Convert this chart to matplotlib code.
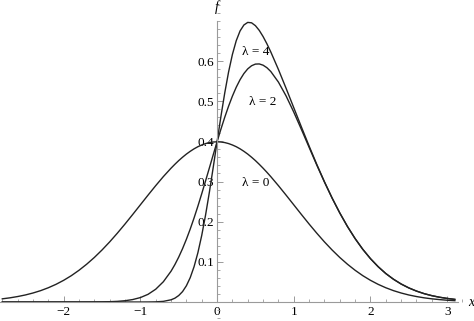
import matplotlib
matplotlib.use("Agg")
import matplotlib.pyplot as plt
from matplotlib.ticker import MultipleLocator, FixedLocator

plt.rcParams['font.family'] = ['Liberation Serif', 'DejaVu Serif']

# sample points
x = [-2.8, -2.7, -2.6, -2.5, -2.4, -2.3, -2.2, -2.1, -2.0, -1.9, -1.8, -1.7,
     -1.6, -1.5, -1.4, -1.3, -1.2, -1.1, -1.0, -0.9, -0.8, -0.7, -0.6,
     -0.55, -0.5, -0.45, -0.4, -0.35, -0.3, -0.25, -0.2, -0.15, -0.1, -0.05,
     0.0, 0.05, 0.1, 0.15, 0.2, 0.25, 0.3, 0.35, 0.4, 0.45, 0.5, 0.55, 0.6,
     0.65, 0.7, 0.8, 0.9, 1.0, 1.1, 1.2, 1.3, 1.4, 1.5, 1.6, 1.7, 1.8, 1.9,
     2.0, 2.1, 2.2, 2.3, 2.4, 2.5, 2.6, 2.7, 2.8, 2.9, 3.0, 3.1]

f_lam0 = [0.0079, 0.0104, 0.0136, 0.0175, 0.0224, 0.0283, 0.0355, 0.0440,
          0.0540, 0.0656, 0.0790, 0.0941, 0.1109, 0.1295, 0.1497, 0.1714,
          0.1942, 0.2179, 0.2420, 0.2661, 0.2897, 0.3123, 0.3332,
          0.3429, 0.3521, 0.3605, 0.3683, 0.3752, 0.3814, 0.3867, 0.3910,
          0.3945, 0.3970, 0.3984,
          0.3989, 0.3984, 0.3970, 0.3945, 0.3910, 0.3867, 0.3814, 0.3752,
          0.3683, 0.3605, 0.3521, 0.3429, 0.3332, 0.3230, 0.3123, 0.2897,
          0.2661, 0.2420, 0.2179, 0.1942, 0.1714, 0.1497, 0.1295, 0.1109,
          0.0941, 0.0790, 0.0656, 0.0540, 0.0440, 0.0355, 0.0283, 0.0224,
          0.0175, 0.0136, 0.0104, 0.0079, 0.0060, 0.0044, 0.0033]

f_lam2 = [0.0, 0.0, 0.0, 0.0, 0.0, 0.0, 0.0, 0.0, 0.0, 0.0, 0.0, 0.0001,
          0.0002, 0.0004, 0.0008, 0.0016, 0.0032, 0.0061, 0.0110, 0.0191,
          0.0318, 0.0505, 0.0767,
          0.0931, 0.1118, 0.1328, 0.1561, 0.1816, 0.2092, 0.2386, 0.2695,
          0.3015, 0.3340, 0.3667,
          0.3989, 0.4302, 0.4599, 0.4875, 0.5126, 0.5348, 0.5536, 0.5689,
          0.5805, 0.5883, 0.5924, 0.5928, 0.5897, 0.5834, 0.5741, 0.5476,
          0.5131, 0.4729, 0.4296, 0.3852, 0.3411, 0.2987, 0.2587, 0.2217,
          0.1880, 0.1579, 0.1312, 0.1080, 0.0880, 0.0709, 0.0567, 0.0448,
          0.0351, 0.0272, 0.0208, 0.0158, 0.0119, 0.0089, 0.0065]

f_lam4 = [0.0, 0.0, 0.0, 0.0, 0.0, 0.0, 0.0, 0.0, 0.0, 0.0, 0.0, 0.0,
          0.0, 0.0, 0.0, 0.0, 0.0, 0.0, 0.0, 0.0001, 0.0004, 0.0016, 0.0055,
          0.0095, 0.0161, 0.0259, 0.0404, 0.0606, 0.0878, 0.1227, 0.1657,
          0.2164, 0.2736, 0.3353,
          0.3989, 0.4616, 0.5203, 0.5726, 0.6164, 0.6506, 0.6750, 0.6898,
          0.6962, 0.6952, 0.6881, 0.6764, 0.6610, 0.6429, 0.6229, 0.5790,
          0.5321, 0.4839, 0.4357, 0.3884, 0.3427, 0.2995, 0.2590, 0.2218,
          0.1881, 0.1579, 0.1312, 0.1080, 0.0880, 0.0709, 0.0567, 0.0448,
          0.0351, 0.0272, 0.0208, 0.0158, 0.0119, 0.0089, 0.0065]

labels = ['λ = 4', 'λ = 2', 'λ = 0']
label_xy = [(0.50, 0.622), (0.59, 0.498), (0.50, 0.296)]

x_ticks = [-2, -1, 0, 1, 2, 3]
y_ticks = [0.1, 0.2, 0.3, 0.4, 0.5, 0.6]

fig = plt.figure(figsize=(4.74, 3.21), dpi=100)
ax = fig.add_axes([0, 0, 1, 1])
ax.set_facecolor('none')

for f in (f_lam0, f_lam2, f_lam4):
    ax.plot(x, f, color='#222222', lw=1.0, solid_joinstyle='round')

for txt, (tx, ty) in zip(labels, label_xy):
    ax.text(tx, ty, txt, fontsize=9.5, ha='center', va='center')

ax.set_xlim(-2.83, 3.35)
ax.set_ylim(-0.0473, 0.752)

axis_gray = '#9a9a9a'
for side in ('top', 'right'):
    ax.spines[side].set_visible(False)
ax.spines['bottom'].set_position(('data', 0))
ax.spines['left'].set_position(('data', 0))
ax.spines['bottom'].set_bounds(-2.83, 3.14)
ax.spines['left'].set_bounds(0, 0.70)
for side in ('bottom', 'left'):
    ax.spines[side].set_color(axis_gray)
    ax.spines[side].set_linewidth(0.8)

ax.xaxis.set_major_locator(FixedLocator(x_ticks))
ax.yaxis.set_major_locator(FixedLocator(y_ticks))
ax.xaxis.set_minor_locator(MultipleLocator(0.2))
ax.yaxis.set_minor_locator(MultipleLocator(0.02))
ax.set_xticklabels(['\u22122', '\u22121', '0', '1', '2', '3'])
ax.set_yticklabels(['0.1', '0.2', '0.3', '0.4', '0.5', '0.6'])
ax.tick_params(which='major', direction='in', length=4, width=0.7,
               color=axis_gray, labelsize=9.5, labelcolor='black', pad=2)
ax.tick_params(which='minor', direction='in', length=2.2, width=0.6,
               color=axis_gray)
ax.tick_params(axis='x', pad=3)

ax.text(3.32, 0, 'x', fontsize=10, style='italic', ha='center', va='center')
ax.text(0, 0.735, 'f', fontsize=10, style='italic', ha='center', va='center')

fig.savefig('out.png', dpi=100)
